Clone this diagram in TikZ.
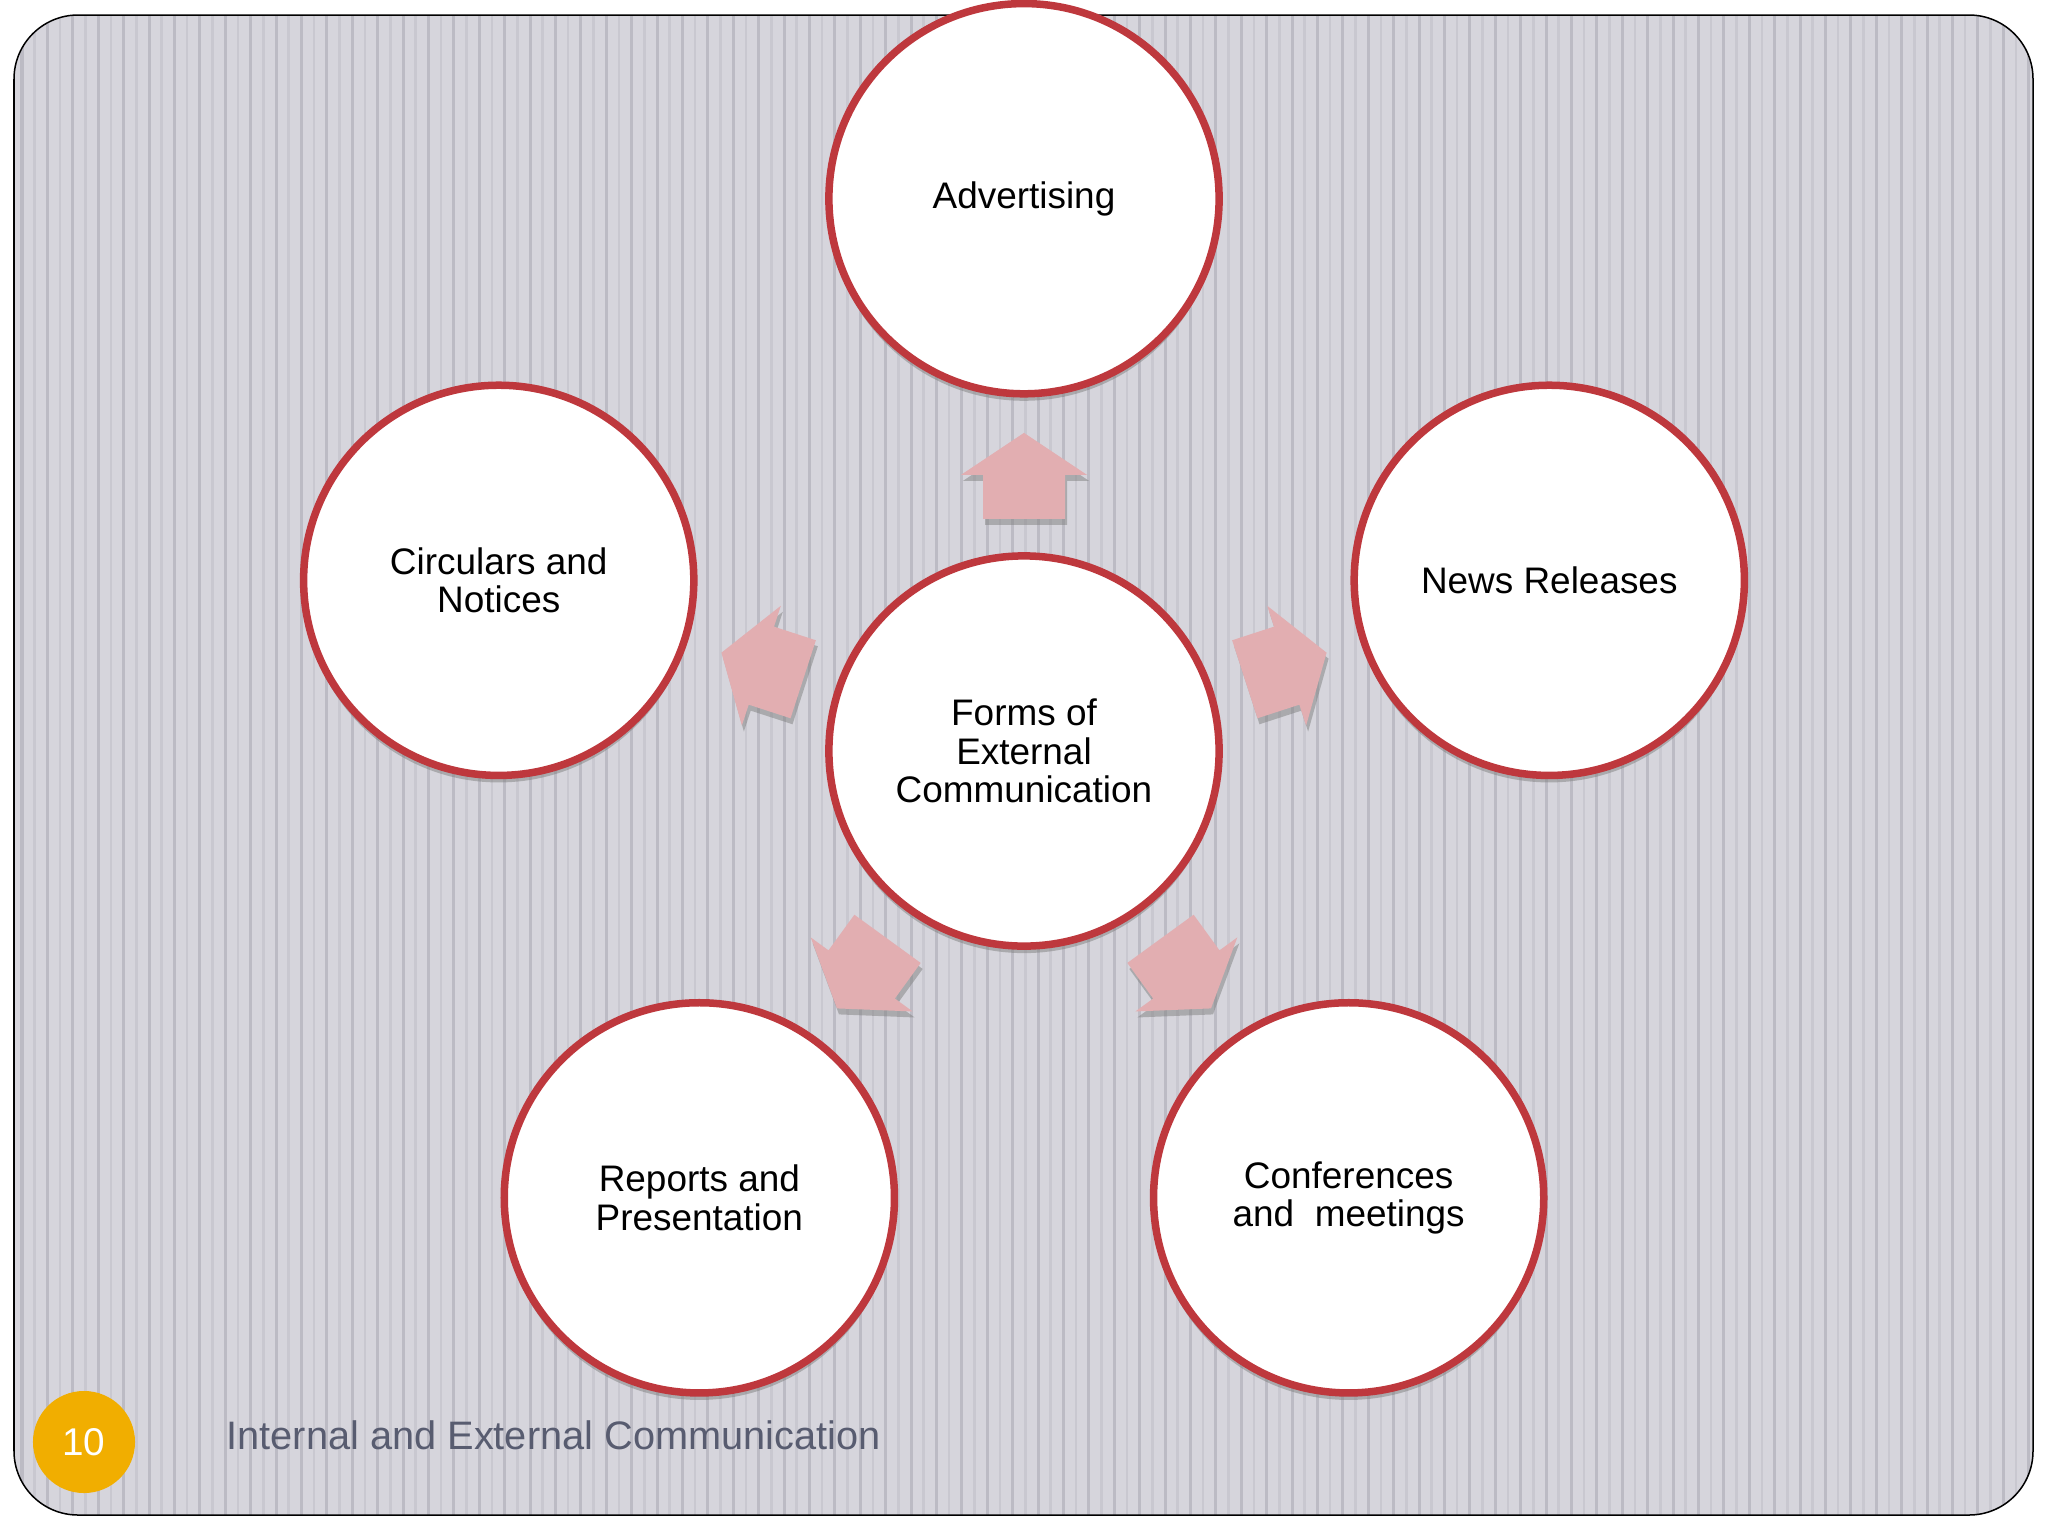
\documentclass[tikz,border=0pt]{standalone}
\usepackage{fontspec}
\setmainfont{Liberation Sans}
\usetikzlibrary{calc, shadows}

\definecolor{slidebg}{RGB}{214,213,220}
\definecolor{stripedark}{RGB}{188,187,196}
\definecolor{stripelight}{RGB}{201,200,208}
\definecolor{ringred}{RGB}{190,56,61}
\definecolor{arrowpink}{RGB}{226,174,177}
\definecolor{footergray}{RGB}{88,92,112}
\definecolor{badgeorange}{RGB}{241,174,0}

\begin{document}
\begin{tikzpicture}[
  x=0.01cm, y=-0.01cm,
  font=\fontsize{10.5}{11}\selectfont,
  bubble/.style={draw=ringred, line width=0.075cm, fill=white, circle, minimum size=3.9cm, align=center, inner sep=0pt,
    drop shadow={opacity=0.5, shadow xshift=0cm, shadow yshift=-0.07cm}},
  blockarrow/.pic={
    \fill[arrowpink, drop shadow={opacity=0.5, shadow xshift=0.02cm, shadow yshift=-0.06cm}]
      (-44,-41) -- (0,-41) -- (0,-63) -- (42,0) -- (0,63) -- (0,41) -- (-44,41) -- cycle;}
]
  \useasboundingbox (0,0) rectangle (2048,1536);

  % slide background
  \begin{scope}
    \clip[rounded corners=0.64cm] (14,15) rectangle (2033,1515);
    \fill[slidebg] (14,15) rectangle (2033,1515);
    \foreach \i in {0,...,79} {
      \draw[stripedark, line width=0.03cm] ({22+\i*25.4},15) -- ++(0,1500);
      \draw[stripelight, line width=0.025cm] ({34.7+\i*25.4},15) -- ++(0,1500);
    }
  \end{scope}
  \draw[rounded corners=0.64cm, line width=0.015cm] (14,15) rectangle (2033,1515);

  \node[bubble] (hub) at (1024,751) {Forms of\\External\\Communication};
  \node[bubble] (adv) at ($(hub)+(90:5.52cm)$) {Advertising};
  \node[bubble] (news) at ($(hub)+(18:5.52cm)$) {News Releases};
  \node[bubble] (circ) at ($(hub)+(162:5.52cm)$) {Circulars and\\Notices};
  \node[bubble] (rep) at ($(hub)+(234:5.52cm)$) {Reports and\\Presentation};
  \node[bubble] (conf) at ($(hub)+(306:5.52cm)$) {Conferences\\and~~meetings};

  \foreach \n/\a in {adv/90, news/18, circ/162, rep/234, conf/306}
    \pic[rotate=\a] at ($(hub)!0.5!(\n)$) {blockarrow};

  % footer
  \node[circle, fill=badgeorange, minimum size=1.02cm, inner sep=0pt, text=white, font=\fontsize{11}{13}\selectfont] (badge) at (84,1442) {10};
  \node[anchor=west, inner sep=0pt, text=footergray, font=\fontsize{11.3}{13}\selectfont] (footer) at (226,1435) {Internal and External Communication};
\end{tikzpicture}
\end{document}
